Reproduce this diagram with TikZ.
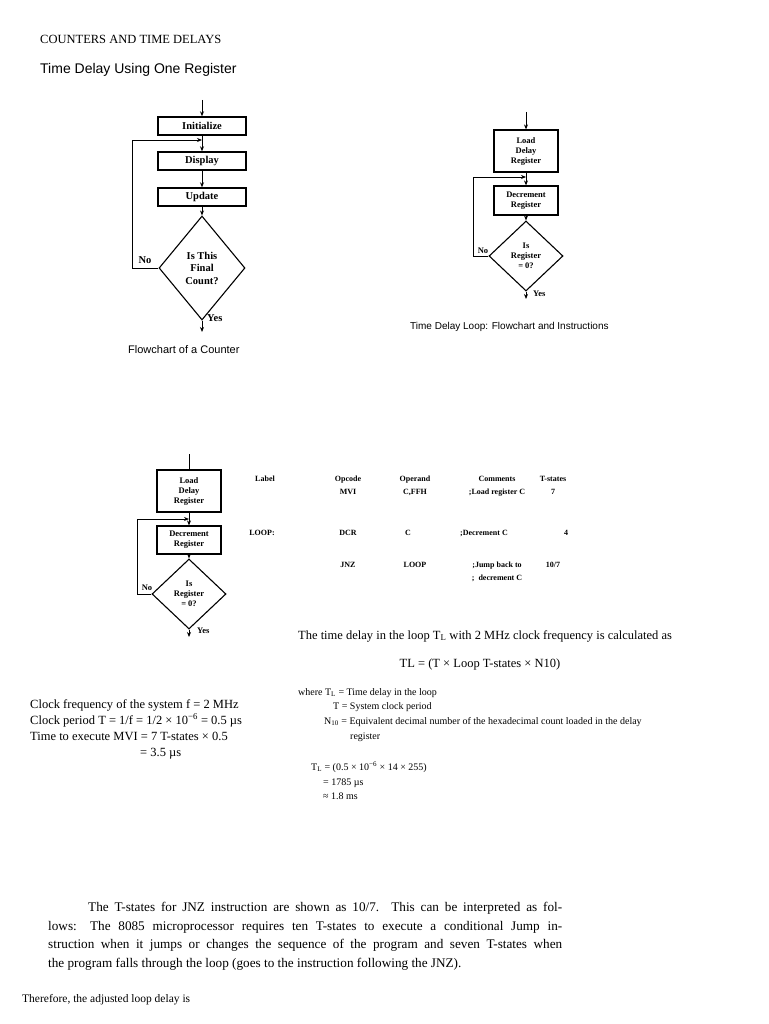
\documentclass[tikz,border=0pt]{standalone}
\usepackage{fontspec}
\setmainfont{Liberation Serif}
\newfontfamily\capsans{Liberation Sans}
\usetikzlibrary{shapes.geometric,arrows.meta}
\begin{document}
\begin{tikzpicture}[x=1pt,y=-1pt,
  every node/.style={inner sep=0pt},
  bx/.style={draw,line width=1.4pt,font=\bfseries\fontsize{10.5}{11}\selectfont,align=center,inner sep=0pt},
  sbx/.style={draw,line width=1.2pt,font=\bfseries\fontsize{8.5}{10}\selectfont,align=center,inner sep=0pt},
  dm/.style={draw,line width=1.1pt,diamond,inner sep=0pt,align=center},
  ar/.style={-{Stealth[length=5pt,width=4pt]},line width=0.9pt},
  ln/.style={line width=0.9pt},
  tx/.style={font=\fontsize{12.5}{14}\selectfont,anchor=base west},
  th/.style={font=\bfseries\fontsize{8}{9}\selectfont,anchor=base},
  ]
\useasboundingbox (0,0) rectangle (768,1024);
\fill[white] (0,0) rectangle (768,1024);
\node[tx,font=\fontsize{12.5}{14}\selectfont] (h1) at (40,44) {COUNTERS AND TIME DELAYS};
\node[tx,font=\capsans\fontsize{14}{16}\selectfont] (h2) at (40,74) {Time Delay Using One Register};

% flowchart 1
\coordinate (t1) at (202,100);
\node[bx,minimum width=88pt,minimum height=18pt] (ini) at (202,126) {Initialize};
\node[bx,minimum width=88pt,minimum height=18pt] (dis) at (202,161) {Display};
\node[bx,minimum width=88pt,minimum height=18pt] (upd) at (202,197) {Update};
\node[dm,minimum width=86pt,minimum height=104pt,font=\bfseries\fontsize{10.5}{12.5}\selectfont] (dec) at (202,268) {Is This\\Final\\Count?};
\coordinate (y1) at (202,332);
\coordinate (j1) at (202,140);
\draw[ar] (t1) -- (ini);
\draw[ar] (ini) -- (dis);
\draw[ar] (dis) -- (upd);
\draw[ar] (upd) -- (dec);
\draw[ar] (dec) -- (y1);
\draw[ar] (dec.west) -- ++(-26,0) |- (j1);
\node[font=\bfseries\fontsize{10.5}{11}\selectfont] (no1) at (145,260) {No};
\node[font=\bfseries\fontsize{10.5}{11}\selectfont,anchor=west] (ye1) at (207,318) {Yes};
\node[tx,font=\capsans\fontsize{11}{12}\selectfont] (c1) at (128,353) {Flowchart of a Counter};

% flowchart 2
\coordinate (t2) at (526,112);
\node[sbx,minimum width=64pt,minimum height=42pt] (ld2) at (526,151) {Load\\Delay\\Register};
\node[sbx,minimum width=64pt,minimum height=29pt] (dc2) at (526,200.5) {Decrement\\Register};
\node[dm,minimum width=74pt,minimum height=70pt,font=\bfseries\fontsize{8.5}{10}\selectfont] (dd2) at (526,256) {Is\\Register\\= 0?};
\coordinate (j2) at (526,177);
\coordinate (y2) at (526,299);
\draw[ar] (t2) -- (ld2);
\draw[ar] (ld2) -- (dc2);
\draw[ar] (dc2) -- (dd2);
\draw[ar] (dd2) -- (y2);
\draw[ar] (dd2.west) -- ++(-15,0) |- (j2);
\node[font=\bfseries\fontsize{8.5}{9}\selectfont] (no2) at (483,251) {No};
\node[font=\bfseries\fontsize{8.5}{9}\selectfont,anchor=west] (ye2) at (533,294) {Yes};
\node[tx,font=\capsans\fontsize{10}{12}\selectfont] (c2) at (410,329) {Time Delay Loop: Flowchart and Instructions};

% flowchart 3
\coordinate (t3) at (189,454);
\node[sbx,minimum width=64pt,minimum height=42pt] (ld3) at (189,491) {Load\\Delay\\Register};
\node[sbx,minimum width=64pt,minimum height=28pt] (dc3) at (189,540) {Decrement\\Register};
\node[dm,minimum width=74pt,minimum height=70pt,font=\bfseries\fontsize{8.5}{10}\selectfont] (dd3) at (189,594) {Is\\Register\\= 0?};
\coordinate (j3) at (189,519);
\coordinate (y3) at (189,637);
\draw[ln] (t3) -- (ld3.north);
\draw[ar] (ld3) -- (dc3);
\draw[ar] (dc3) -- (dd3);
\draw[ar] (dd3) -- (y3);
\draw[ar] (dd3.west) -- ++(-14,0) |- (j3);
\node[font=\bfseries\fontsize{8.5}{9}\selectfont] (no3) at (147,588) {No};
\node[font=\bfseries\fontsize{8.5}{9}\selectfont,anchor=west] (ye3) at (197,631) {Yes};

% table
\node[th] (hl) at (265,481) {Label};
\node[th] (ho) at (348,481) {Opcode};
\node[th] (hp) at (415,481) {Operand};
\node[th] (hc) at (497,481) {Comments};
\node[th] (ht) at (553,481) {T-states};
\node[th] (o1) at (348,494) {MVI};
\node[th] (p1) at (415,494) {C,FFH};
\node[th] (m1) at (497,494) {;Load register C};
\node[th] (s1) at (553,494) {7};
\node[th] (l2) at (262,535) {LOOP:};
\node[th] (o2) at (348,535) {DCR};
\node[th] (p2) at (408,535) {C};
\node[th] (m2) at (484,535) {;Decrement C};
\node[th] (s2) at (566,535) {4};
\node[th] (o3) at (348,567) {JNZ};
\node[th] (p3) at (415,567) {LOOP};
\node[th] (m3) at (497,567) {;Jump back to};
\node[th] (m3b) at (497,580) {;\ \ decrement C};
\node[th] (s3) at (553,567) {10/7};

% left text
\node[tx] (a1) at (30,708) {Clock frequency of the system f = 2 MHz};
\node[tx] (a2) at (30,724) {Clock period T = 1/f = 1/2 × 10\textsuperscript{−6} = 0.5 µs};
\node[tx] (a3) at (30,740) {Time to execute MVI = 7 T-states × 0.5};
\node[tx] (a4) at (140,756) {= 3.5 µs};

% right text
\node[tx] (b1) at (298,639) {The time delay in the loop T\textsubscript{L} with 2 MHz clock frequency is calculated as};
\node[tx,anchor=base] (b2) at (480,667) {TL = (T × Loop T-states × N10)};
\node[tx,font=\fontsize{10}{12}\selectfont] (b3) at (298,695) {where T\textsubscript{L} = Time delay in the loop};
\node[tx,font=\fontsize{10}{12}\selectfont] (b4) at (333,709) {T = System clock period};
\node[tx,font=\fontsize{10}{12}\selectfont] (b5) at (324,724) {N\textsubscript{10} = Equivalent decimal number of the hexadecimal count loaded in the delay};
\node[tx,font=\fontsize{10}{12}\selectfont] (b6) at (350,739) {register};
\node[tx,font=\fontsize{10}{12}\selectfont] (b7) at (311,770) {T\textsubscript{L} = (0.5 × 10\textsuperscript{−6} × 14 × 255)};
\node[tx,font=\fontsize{10}{12}\selectfont] (b8) at (323,785) {= 1785 µs};
\node[tx,font=\fontsize{10}{12}\selectfont] (b9) at (323,799) {≈ 1.8 ms};

% paragraph
\node[anchor=north west,font=\fontsize{13.2}{18.7}\selectfont,text width=514pt,align=justify] (par) at (48,902)
{\hspace*{40pt}The T-states for JNZ instruction are shown as 10/7. This can be interpreted as fol-\linebreak
lows: The 8085 microprocessor requires ten T-states to execute a conditional Jump in-\linebreak
struction when it jumps or changes the sequence of the program and seven T-states when\linebreak
the program falls through the loop (goes to the instruction following the JNZ).\par};
\node[tx,font=\fontsize{11.5}{13}\selectfont] (th) at (22,1002) {Therefore, the adjusted loop delay is};
\end{tikzpicture}
\end{document}
